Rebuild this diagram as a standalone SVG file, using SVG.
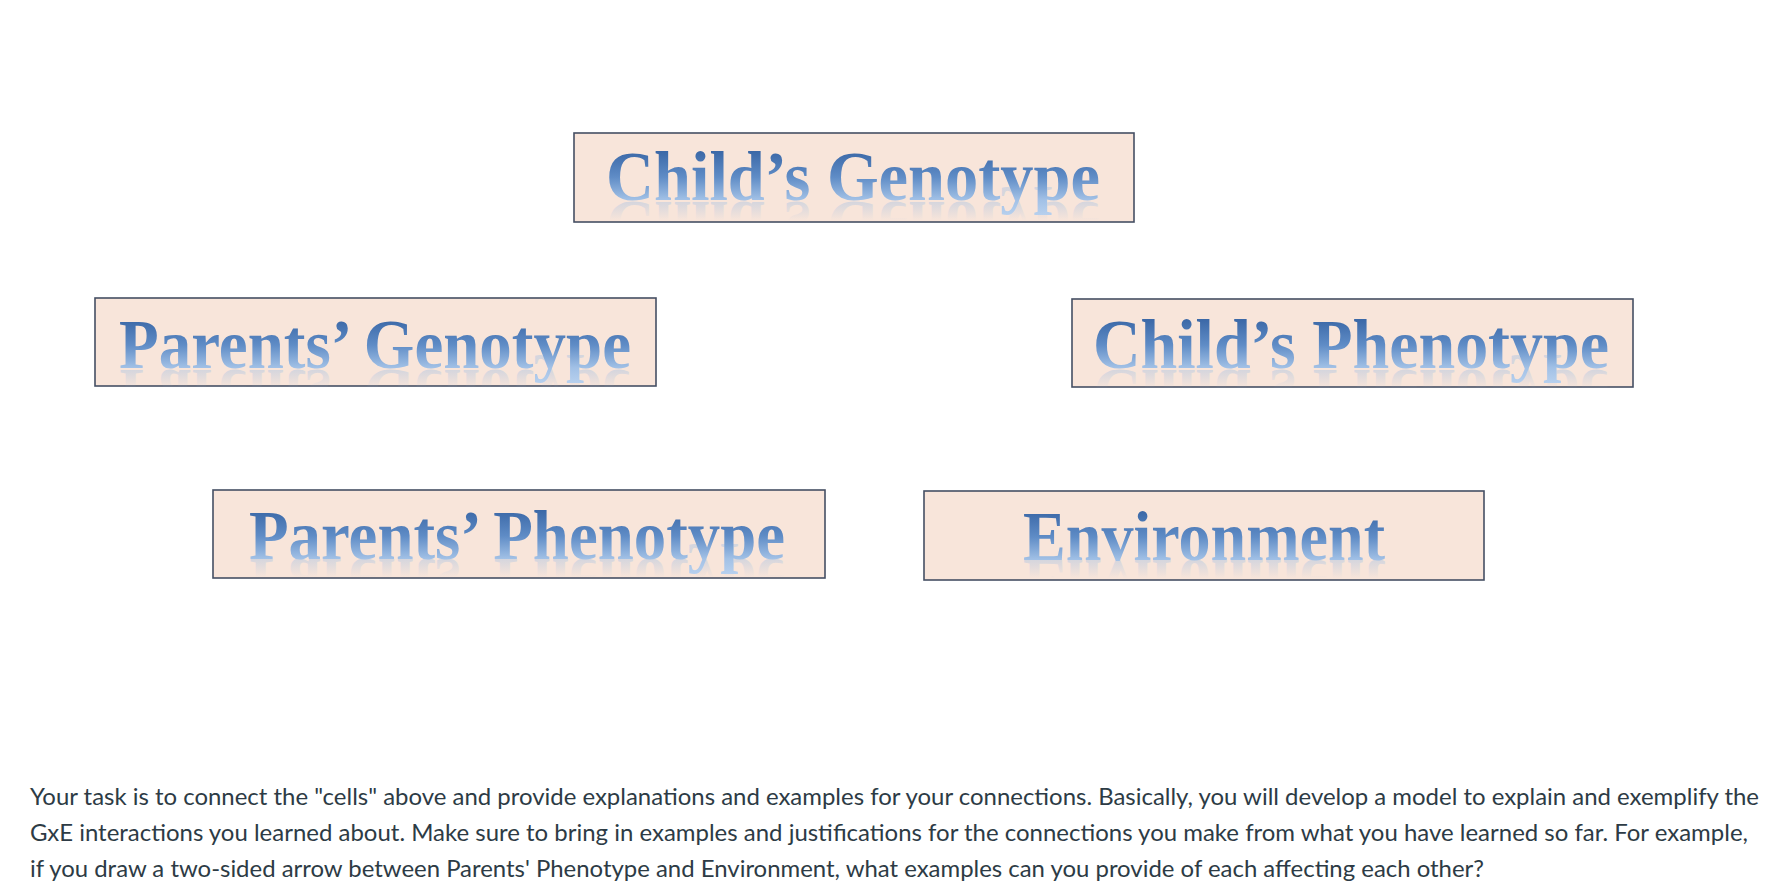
<svg xmlns="http://www.w3.org/2000/svg" width="1782" height="894" viewBox="0 0 1782 894">
  <defs>
    <linearGradient id="gTitle" x1="0" y1="0" x2="0" y2="1">
      <stop offset="0.15" stop-color="#3a67a6"/>
      <stop offset="0.5" stop-color="#5f8cc6"/>
      <stop offset="0.8" stop-color="#a2c1e6"/>
      <stop offset="1" stop-color="#b7d0ee"/>
    </linearGradient>
    <linearGradient id="gRefl" x1="0" y1="0" x2="0" y2="1">
      <stop offset="0" stop-color="#9dbde3" stop-opacity="0"/>
      <stop offset="0.56" stop-color="#9dbde3" stop-opacity="0"/>
      <stop offset="0.8" stop-color="#9dbde3" stop-opacity="0.38"/>
      <stop offset="1" stop-color="#9dbde3" stop-opacity="0.38"/>
    </linearGradient>
  </defs>
  <style>
    .box { fill: #f8e5da; stroke: #454f63; stroke-width: 1.6; }
    .title { font-family: "Liberation Serif", "DejaVu Serif", serif; font-weight: bold; font-size: 69px; fill: url(#gTitle); }
    .refl { font-family: "Liberation Serif", "DejaVu Serif", serif; font-weight: bold; font-size: 69px; fill: url(#gRefl); }
    .body { font-family: Lato, "Liberation Sans", sans-serif; font-size: 22.7px; fill: #2d3b45; }
  </style>
  <rect width="1782" height="894" fill="#ffffff"/>

  <g id="connectors"></g>

  <g id="childs-genotype">
    <rect class="box" x="574" y="133" width="560" height="89"/>
    <text class="refl" x="606" y="200" textLength="494" lengthAdjust="spacingAndGlyphs" transform="matrix(1 0 0 -1 0 402)">Child’s Genotype</text>
    <text class="title" x="606" y="200" textLength="494" lengthAdjust="spacingAndGlyphs">Child’s Genotype</text>
  </g>

  <g id="parents-genotype">
    <rect class="box" x="95" y="298" width="561" height="88"/>
    <text class="refl" x="119" y="368" textLength="512" lengthAdjust="spacingAndGlyphs" transform="matrix(1 0 0 -1 0 738)">Parents’ Genotype</text>
    <text class="title" x="119" y="368" textLength="512" lengthAdjust="spacingAndGlyphs">Parents’ Genotype</text>
  </g>

  <g id="childs-phenotype">
    <rect class="box" x="1072" y="299" width="561" height="88"/>
    <text class="refl" x="1093" y="368" textLength="516" lengthAdjust="spacingAndGlyphs" transform="matrix(1 0 0 -1 0 738)">Child’s Phenotype</text>
    <text class="title" x="1093" y="368" textLength="516" lengthAdjust="spacingAndGlyphs">Child’s Phenotype</text>
  </g>

  <g id="parents-phenotype">
    <rect class="box" x="213" y="490" width="612" height="88"/>
    <text class="refl" x="249" y="559" textLength="536" lengthAdjust="spacingAndGlyphs" transform="matrix(1 0 0 -1 0 1118)">Parents’ Phenotype</text>
    <text class="title" x="249" y="559" textLength="536" lengthAdjust="spacingAndGlyphs">Parents’ Phenotype</text>
  </g>

  <g id="environment">
    <rect class="box" x="924" y="491" width="560" height="89"/>
    <text class="refl" x="1023" y="560" textLength="362" lengthAdjust="spacingAndGlyphs" transform="matrix(1 0 0 -1 0 1120)">Environment</text>
    <text class="title" x="1023" y="560" textLength="362" lengthAdjust="spacingAndGlyphs">Environment</text>
  </g>

  <g id="instructions">
    <text class="body" x="30" y="805" textLength="1729" lengthAdjust="spacingAndGlyphs">Your task is to connect the "cells" above and provide explanations and examples for your connections. Basically, you will develop a model to explain and exemplify the</text>
    <text class="body" x="30" y="841" textLength="1718" lengthAdjust="spacingAndGlyphs">GxE interactions you learned about. Make sure to bring in examples and justifications for the connections you make from what you have learned so far. For example,</text>
    <text class="body" x="30" y="877" textLength="1454" lengthAdjust="spacingAndGlyphs">if you draw a two-sided arrow between Parents' Phenotype and Environment, what examples can you provide of each affecting each other?</text>
  </g>
</svg>
